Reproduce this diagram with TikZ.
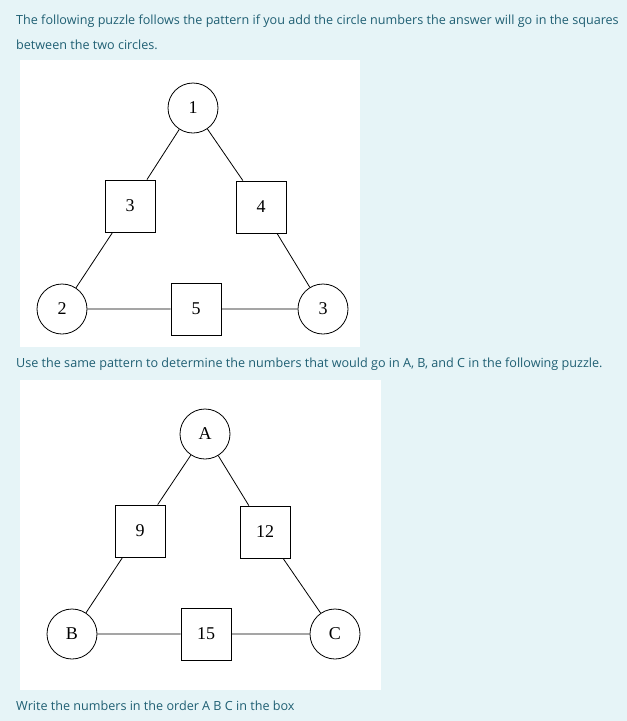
\documentclass[tikz,border=0pt]{standalone}
\usepackage{fontspec}
\setmainfont{Liberation Serif}
\newfontfamily\uifont{Open Sans}
\definecolor{bg}{HTML}{E6F4F7}
\definecolor{txt}{HTML}{1F5F73}
\begin{document}
\begin{tikzpicture}[x=1pt,y=-1pt,
  circ/.style={circle,draw,thick,minimum size=50pt,inner sep=0pt,font=\fontsize{18}{20}\selectfont},
  sq/.style={rectangle,draw,thick,minimum width=50pt,minimum height=52pt,inner sep=0pt,font=\fontsize{18}{20}\selectfont},
  ui/.style={anchor=west,inner sep=0pt,text=txt,font=\uifont\fontsize{12.6}{14}\selectfont},
  ln/.style={thick}]
\fill[bg] (0,0) rectangle (627,721);
\fill[white] (20,60) rectangle (360,347);
\fill[white] (20,380) rectangle (381,690);
\node[ui] (t1) at (16,21) {The following puzzle follows the pattern if you add the circle numbers the answer will go in the squares};
\node[ui] (t2) at (16,45) {between the two circles.};
\node[ui] (t3) at (16,364) {Use the same pattern to determine the numbers that would go in A, B, and C in the following puzzle.};
\node[ui] (t4) at (16,706) {Write the numbers in the order A B C in the box};
% top puzzle
\node[circ] (c1) at (193,108) {1};
\node[circ] (c2) at (62,309) {2};
\node[circ] (c3) at (323,309) {3};
\node[sq] (s3) at (130,206) {3};
\node[sq] (s4) at (261,207) {4};
\node[sq] (s5) at (196,309) {5};
\draw[ln] (c1) -- (s3) (s3) -- (c2) (c1) -- (s4) (s4) -- (c3) (c2) -- (s5) (s5) -- (c3);
% bottom puzzle
\node[circ] (cA) at (205,434) {A};
\node[circ] (cB) at (72,634) {B};
\node[circ] (cC) at (335,634) {C};
\node[sq] (s9) at (140,531) {9};
\node[sq] (s12) at (265,532) {12};
\node[sq] (s15) at (206,634) {15};
\draw[ln] (cA) -- (s9) (s9) -- (cB) (cA) -- (s12) (s12) -- (cC) (cB) -- (s15) (s15) -- (cC);
\end{tikzpicture}
\end{document}
